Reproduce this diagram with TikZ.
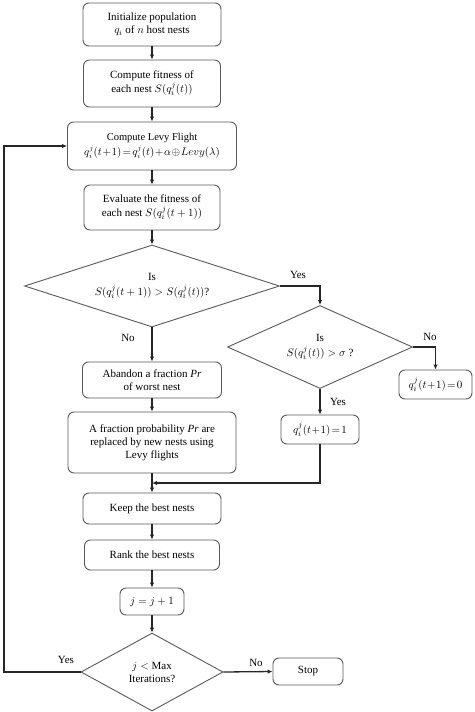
\documentclass[tikz,border=0pt]{standalone}
\usepackage{fontspec}
\setmainfont{Liberation Serif}
\usetikzlibrary{shapes.geometric,arrows.meta}
\begin{document}
\begin{tikzpicture}[x=1pt,y=-1pt,
  box/.style={draw=black!65,line width=0.9pt,rounded corners=6pt,align=center,inner sep=0pt,font=\fontsize{11}{13}\selectfont},
  dia/.style={draw=black!65,line width=0.9pt,diamond,inner sep=0pt,align=center,font=\fontsize{11}{13}\selectfont},
  arr/.style={draw=black!85,line width=1.3pt,-{Latex[length=5pt,width=4.5pt]}},
  lab/.style={font=\fontsize{11}{13}\selectfont}]
\useasboundingbox (0,0) rectangle (474,712);
\node[box,minimum width=138pt,minimum height=43pt] (b1) at (152,24.5) {Initialize population\\ $q_i$ of $n$ host nests};
\node[box,minimum width=137pt,minimum height=47pt] (b2) at (152,83.5) {Compute fitness of\\[1pt] each nest $S(q_i^j(t))$};
\node[box,minimum width=169pt,minimum height=48pt,font=\fontsize{10.5}{13}\selectfont] (b3) at (152,146) {Compute Levy Flight\\[2pt] $\medmuskip=1mu\thickmuskip=2mu q_i^j(t+1)=q_i^j(t)+\alpha\oplus Levy(\lambda)$};
\node[box,minimum width=136pt,minimum height=45pt] (b4) at (152,207.5) {Evaluate the fitness of\\[1pt] each nest $S(q_i^j(t+1))$};
\node[dia,shape aspect=3.1,minimum width=255pt,minimum height=82pt] (d1) at (152,286) {Is\\[2pt] $S(q_i^j(t+1)) > S(q_i^j(t))$?};
\node[dia,shape aspect=2.2,minimum width=185pt,minimum height=83pt] (d2) at (320,347) {Is\\[2pt] $S(q_i^j(t)) > \sigma$ ?};
\node[box,minimum width=73pt,minimum height=29pt] (bz) at (435.5,384.5) {$\medmuskip=1mu\thickmuskip=2mu q_i^j(t+1)=0$};
\node[box,minimum width=78pt,minimum height=29pt] (bo) at (320,429.5) {$\medmuskip=1mu\thickmuskip=2mu q_i^j(t+1)=1$};
\node[box,minimum width=139pt,minimum height=36pt] (b5) at (152,380) {Abandon a fraction \textit{Pr}\\ of worst nest};
\node[box,minimum width=168pt,minimum height=61pt] (b6) at (152,442.5) {A fraction probability \textit{Pr} are\\ replaced by new nests using\\ Levy flights};
\node[box,minimum width=138pt,minimum height=31pt] (b7) at (152,508.5) {Keep the best nests};
\node[box,minimum width=135pt,minimum height=30pt] (b8) at (152,555) {Rank the best nests};
\node[box,minimum width=64pt,minimum height=27pt] (b9) at (152,601.5) {$j = j+1$};
\node[dia,shape aspect=1.8,minimum width=142pt,minimum height=78pt] (d3) at (152,672) {$j<$ Max\\ Iterations?};
\node[box,minimum width=70pt,minimum height=27pt] (stop) at (308,671.5) {Stop};
\coordinate (m) at (152,483);
\coordinate (lp) at (4,672);
\draw[arr] (b1) -- (b2);
\draw[arr] (b2) -- (b3);
\draw[arr] (b3) -- (b4);
\draw[arr] (b4.south) -- (d1.north);
\draw[arr] (d1.east) -| (d2.north);
\draw[arr] (d1.south) -- (b5.north);
\draw[arr] (d2.east) -| (bz.north);
\draw[arr] (d2.south) -- (bo.north);
\draw[arr] (b5) -- (b6);
\draw[arr] (bo.south) |- (m);
\draw[arr] (b6) -- (b7);
\draw[arr] (b7) -- (b8);
\draw[arr] (b8) -- (b9);
\draw[arr] (b9.south) -- (d3.north);
\draw[arr] (d3.east) -- (stop.west);
\draw[arr] (d3.west) -- (lp) |- (b3.west);
\node[lab] (y1) at (298,275) {Yes};
\node[lab] (n1) at (128,338) {No};
\node[lab] (n2) at (430,337) {No};
\node[lab] (y2) at (338,402) {Yes};
\node[lab] (y3) at (66,660) {Yes};
\node[lab] (n3) at (256,663) {No};
\end{tikzpicture}
\end{document}
